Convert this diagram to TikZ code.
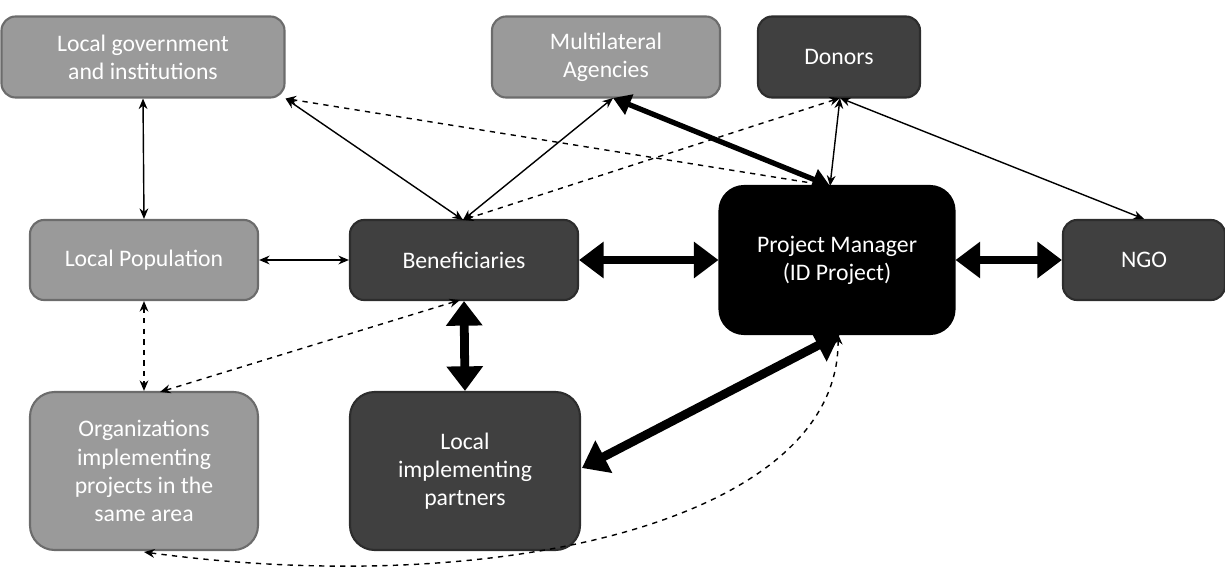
\documentclass[tikz,border=0pt]{standalone}
\usepackage{fontspec}
\setmainfont{Carlito}
\usetikzlibrary{arrows.meta}
\definecolor{lg}{HTML}{9A9A9A}
\definecolor{dg}{HTML}{404040}
\begin{document}
\begin{tikzpicture}[x=0.02cm,y=-0.02cm,
 box/.style={draw=#1!70!black,line width=1.2pt,rounded corners=8pt,fill=#1,text=white,align=center,font=\fontsize{13.5}{16}\selectfont,inner sep=0pt},
 thin/.style={{Stealth[length=6pt,width=5pt]}-{Stealth[length=6pt,width=5pt]},line width=0.8pt},
 dsh/.style={thin,dashed},
 thk/.style={{Triangle[length=14pt,width=20pt]}-{Triangle[length=14pt,width=20pt]},line width=5pt},
 thm/.style={{Triangle[length=10pt,width=12pt]}-{Triangle[length=10pt,width=12pt]},line width=3pt}]
\useasboundingbox (0,0) rectangle (1225,581);
\node[box=lg,minimum width=283*0.02cm,minimum height=81*0.02cm] (lgov) at (143,57) {Local government\\and institutions};
\node[box=lg,minimum width=228*0.02cm,minimum height=81*0.02cm] (mla) at (606,57) {Multilateral\\Agencies};
\node[box=dg,minimum width=162*0.02cm,minimum height=81*0.02cm] (don) at (839,57) {Donors};
\node[box=lg,minimum width=228*0.02cm,minimum height=80*0.02cm] (lpop) at (144,260) {Local Population};
\node[box=dg,minimum width=228*0.02cm,minimum height=80*0.02cm] (ben) at (464,260) {Beneficiaries};
\node[box=black,draw=black,rounded corners=14pt,minimum width=235*0.02cm,minimum height=148*0.02cm] (pm) at (837,260) {Project Manager\\(ID Project)};
\node[box=dg,minimum width=162*0.02cm,minimum height=80*0.02cm] (ngo) at (1144,260) {NGO};
\node[box=lg,rounded corners=14pt,minimum width=228*0.02cm,minimum height=158*0.02cm] (org) at (144,471) {Organizations\\implementing\\projects in the\\same area};
\node[box=dg,rounded corners=14pt,minimum width=230*0.02cm,minimum height=158*0.02cm] (lip) at (465,471) {Local\\implementing\\partners};
\coordinate (bt) at (463,220);
\coordinate (pt) at (830,186);
\coordinate (dt) at (840,98);
\draw[thin] (lgov.south |- lgov.south) -- (lpop.north);
\draw[thin] (lpop) -- (ben);
\draw[dsh] (lpop.south) -- (org.north);
\draw[dsh] (160,392) -- (460,300);
\draw[thin] (lgov.south east) -- (bt);
\draw[dsh] (lgov.south east) -- (pt);
\draw[thin] (613,98) -- (bt);
\draw[thm] (613,98) -- (pt);
\draw[dsh] (dt) -- (bt);
\draw[thin] (dt) -- (pt);
\draw[thin] (dt) -- (ngo.north);
\draw[thk] (ben) -- (pm);
\draw[thk] (pm) -- (ngo);
\draw[thk] (ben.south) -- (lip.north);
\draw[thk] (840,334) -- (582,468);
\draw[dsh] (838,334) .. controls (840,520) and (500,600) .. (144,552);
\end{tikzpicture}
\end{document}
